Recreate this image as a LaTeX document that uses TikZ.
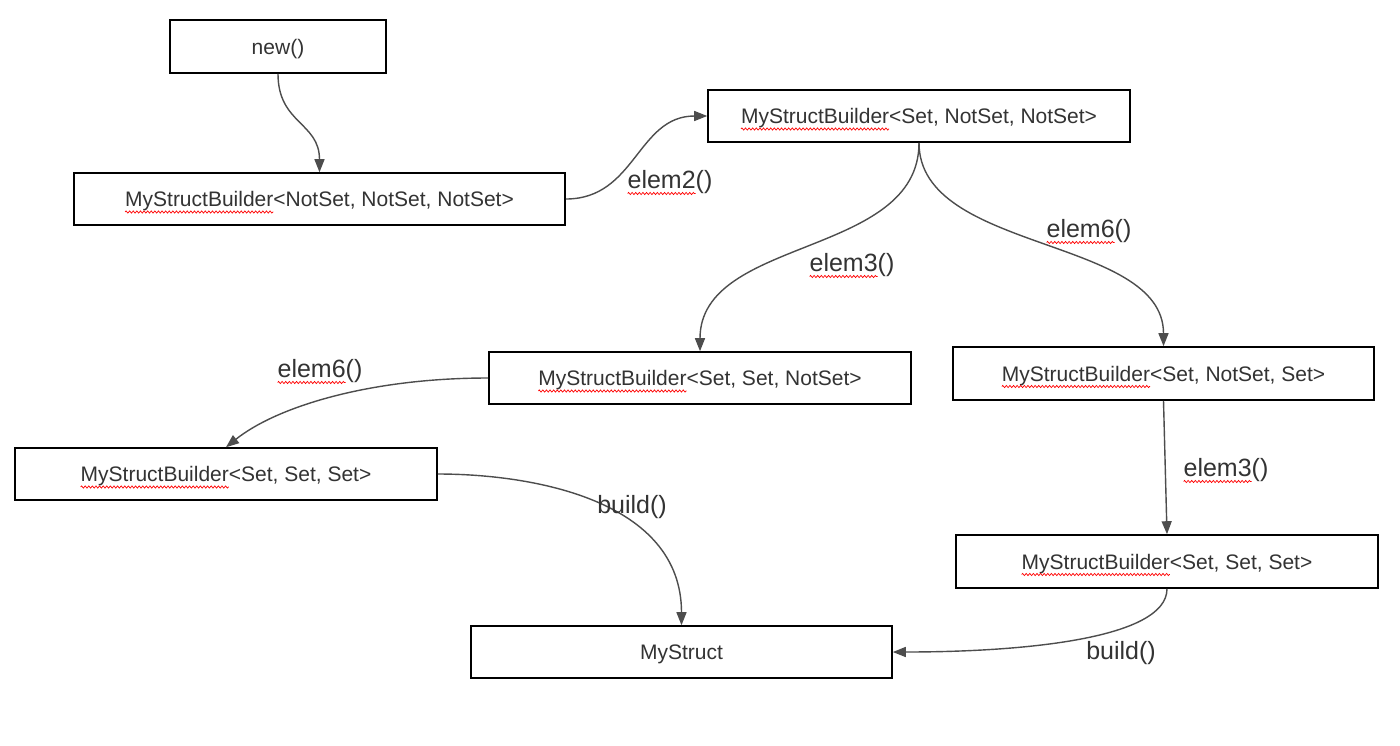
\documentclass[tikz,border=0pt]{standalone}
\usepackage{fontspec}
\setmainfont{Liberation Sans}
\usetikzlibrary{arrows.meta,decorations.pathmorphing,calc}
\definecolor{txtc}{HTML}{333333}
\definecolor{lnc}{HTML}{4D4D4D}
\newcommand\spellmark[1]{\tikz[baseline=(sw.base)]{\node[inner sep=0pt,outer sep=0pt,draw=none,fill=none,minimum width=0pt,minimum height=0pt,text height={},text depth={},anchor=base](sw){#1};\draw[overlay,red,line width=0.7pt,decorate,decoration={zigzag,amplitude=1.1pt,segment length=3.6pt}]([yshift=-5.5pt]sw.base west)--([yshift=-5.5pt]sw.base east);}}
\tikzset{
  box/.style={draw=black,line width=1.6pt,fill=white,inner sep=0pt,text=txtc,
    font=\fontsize{21}{25}\selectfont,text height=15pt,text depth=0pt},
  lbl/.style={inner sep=0pt,text=txtc,font=\fontsize{25}{30}\selectfont,text height=18pt,text depth=0pt},
  conn/.style={draw=lnc,line width=1.4pt,-{Triangle[length=13pt,width=10pt]}}
}
\begin{document}
\begin{tikzpicture}[x=1pt,y=-1pt]
\useasboundingbox[fill=white] (0,0) rectangle (1400,745);
\node[box,minimum width=216pt,minimum height=53pt] (nw) at (278,46.5) {new()};
\node[box,minimum width=491pt,minimum height=52pt] (b0) at (319.5,199) {\spellmark{MyStructBuilder}<NotSet, NotSet, NotSet>};
\node[box,minimum width=422pt,minimum height=52pt] (b1) at (919,116) {\spellmark{MyStructBuilder}<Set, NotSet, NotSet>};
\node[box,minimum width=422pt,minimum height=52pt] (b2) at (700,378) {\spellmark{MyStructBuilder}<Set, Set, NotSet>};
\node[box,minimum width=421pt,minimum height=53pt] (b3) at (1163.5,373.5) {\spellmark{MyStructBuilder}<Set, NotSet, Set>};
\node[box,minimum width=422pt,minimum height=52pt] (b4) at (226,474) {\spellmark{MyStructBuilder}<Set, Set, Set>};
\node[box,minimum width=422pt,minimum height=53pt] (b5) at (1167,561.5) {\spellmark{MyStructBuilder}<Set, Set, Set>};
\node[box,minimum width=421pt,minimum height=52pt] (ms) at (681.5,652) {MyStruct};

\draw[conn] (nw.south) .. controls +(0,50) and +(0,-50) .. (b0.north);
\draw[conn] (b0.east) .. controls +(70,0) and +(-70,0) .. (b1.west);
\draw[conn] (b1.south) .. controls +(0,115) and +(0,-115) .. (b2.north);
\draw[conn] (b1.south) .. controls +(0,110) and +(0,-110) .. (b3.north);
\draw[conn] (b2.west) .. controls +(-120,0) and +(50,-40) .. (b4.north);
\draw[conn] (b3.south) -- (b5.north);
\draw[conn] (b4.east) .. controls +(95,0) and +(0,-125) .. (ms.north);
\draw[conn] (b5.south) .. controls +(0,50) and +(130,0) .. (ms.east);

\node[lbl] (l1) at (670,179) {\spellmark{elem2}()};
\node[lbl] (l2) at (852,262) {\spellmark{elem3}()};
\node[lbl] (l3) at (1089,228) {\spellmark{elem6}()};
\node[lbl] (l4) at (320,368) {\spellmark{elem6}()};
\node[lbl] (l5) at (1226,467) {\spellmark{elem3}()};
\node[lbl] (l6) at (632,504) {build()};
\node[lbl] (l7) at (1121,650) {build()};
\end{tikzpicture}
\end{document}
